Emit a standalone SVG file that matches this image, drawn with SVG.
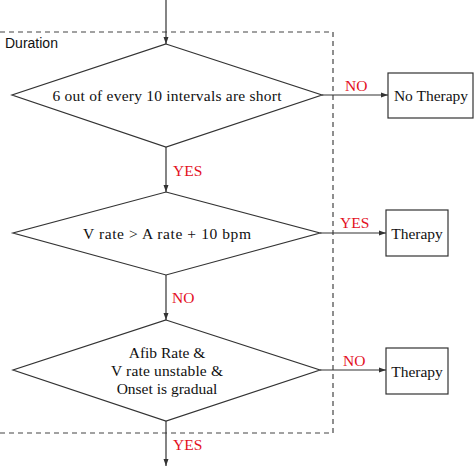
<svg xmlns="http://www.w3.org/2000/svg" width="474" height="466" viewBox="0 0 474 466">
<style>
.shape{fill:#fff;stroke:#333;stroke-width:1.2}
.line{fill:none;stroke:#333;stroke-width:1.2}
.dash{fill:none;stroke:#444;stroke-width:1.2;stroke-dasharray:5,4}
.t{font-family:"Liberation Serif","Times New Roman",serif;font-size:15.5px;fill:#111;text-anchor:middle;dominant-baseline:central}
.r{font-family:"Liberation Serif","Times New Roman",serif;font-size:15.5px;fill:#e3101e;dominant-baseline:central}
.s{font-family:"Liberation Sans",Arial,sans-serif;font-size:14px;fill:#111;dominant-baseline:central}
</style>
<defs>
<marker id="arr" markerWidth="8" markerHeight="6" refX="7" refY="3" orient="auto" markerUnits="userSpaceOnUse">
<path d="M0,0.5 L7,3 L0,5.5 z" fill="#333"/>
</marker>
</defs>
<g id="duration">
<path class="dash" d="M0,32 H333 V433 H0"/>
<text class="s" x="5" y="43">Duration</text>
</g>
<g id="connectors">
<line class="line" x1="166" y1="0" x2="166" y2="44" marker-end="url(#arr)"/>
<line class="line" x1="322" y1="95" x2="388" y2="95" marker-end="url(#arr)"/>
<line class="line" x1="166" y1="147" x2="166" y2="192" marker-end="url(#arr)"/>
<line class="line" x1="320" y1="233" x2="386" y2="233" marker-end="url(#arr)"/>
<line class="line" x1="166" y1="275" x2="166" y2="320" marker-end="url(#arr)"/>
<line class="line" x1="320" y1="370" x2="386" y2="370" marker-end="url(#arr)"/>
<line class="line" x1="166" y1="421" x2="166" y2="466" marker-end="url(#arr)"/>
<text class="r" x="345" y="85">NO</text>
<text class="r" x="173" y="170">YES</text>
<text class="r" x="340" y="222">YES</text>
<text class="r" x="172" y="297">NO</text>
<text class="r" x="343" y="360">NO</text>
<text class="r" x="173" y="444">YES</text>
</g>
<g id="d1">
<polygon class="shape" points="166,44 322,95 166,147 12,95"/>
<text class="t" x="167" y="95" textLength="229" lengthAdjust="spacing">6 out of every 10 intervals are short</text>
</g>
<g id="d2">
<polygon class="shape" points="166,192 320,233 166,275 13,233"/>
<text class="t" x="167" y="233" textLength="168" lengthAdjust="spacing">V rate &gt; A rate + 10 bpm</text>
</g>
<g id="d3">
<polygon class="shape" points="166,320 320,370 166,421 13,370"/>
<text class="t" x="167" y="352">Afib Rate &amp;</text>
<text class="t" x="167" y="370" textLength="112" lengthAdjust="spacing">V rate unstable &amp;</text>
<text class="t" x="167" y="388">Onset is gradual</text>
</g>
<g id="b1">
<rect class="shape" x="388" y="73" width="85" height="45"/>
<text class="t" x="431" y="95">No Therapy</text>
</g>
<g id="b2">
<rect class="shape" x="386" y="210" width="62" height="46"/>
<text class="t" x="417" y="233">Therapy</text>
</g>
<g id="b3">
<rect class="shape" x="386" y="348" width="62" height="46"/>
<text class="t" x="417" y="371">Therapy</text>
</g>
</svg>
